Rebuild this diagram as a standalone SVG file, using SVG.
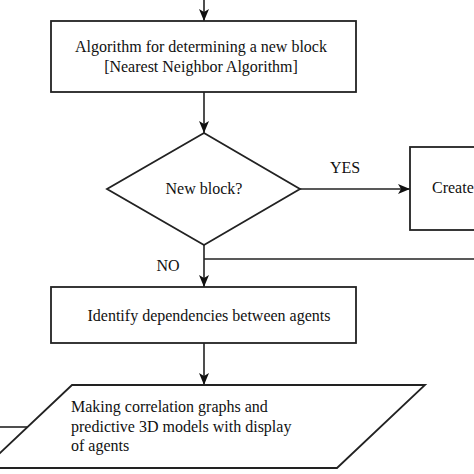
<svg xmlns="http://www.w3.org/2000/svg" width="474" height="474" viewBox="0 0 474 474">
<style>
.shape{fill:#fff;stroke:#222;stroke-width:1.8}
.conn{fill:none;stroke:#222;stroke-width:1.6}
text{font-family:"Liberation Serif","Times New Roman",serif;font-size:16px;fill:#111}
.c{text-anchor:middle}
</style>
<defs>
<marker id="arr" markerUnits="userSpaceOnUse" viewBox="0 0 12 10" markerWidth="12" markerHeight="10" refX="12" refY="5" orient="auto">
<path d="M0,0 L12,5 L0,10 L3,5 Z" fill="#111"/>
</marker>
</defs>
<rect width="474" height="474" fill="#fff"/>
<g id="connectors">
<line class="conn" x1="204" y1="0" x2="204" y2="21" marker-end="url(#arr)"/>
<line class="conn" x1="204" y1="92" x2="204" y2="133" marker-end="url(#arr)"/>
<line class="conn" x1="300" y1="189" x2="410" y2="189" marker-end="url(#arr)"/>
<line class="conn" x1="204" y1="245" x2="204" y2="287" marker-end="url(#arr)"/>
<line class="conn" x1="474" y1="259" x2="204" y2="259"/>
<line class="conn" x1="204" y1="343" x2="204" y2="385" marker-end="url(#arr)"/>
<line class="conn" x1="0" y1="427" x2="27" y2="427"/>
<text class="c" x="345" y="173">YES</text>
<text class="c" x="168" y="271">NO</text>
</g>
<g id="algorithm">
<rect class="shape" x="51" y="21" width="305" height="71"/>
<text class="c" x="201" y="52">Algorithm for determining a new block</text>
<text class="c" x="201" y="72">[Nearest Neighbor Algorithm]</text>
</g>
<g id="decision">
<polygon class="shape" points="204,133 300,189 204,245 107,189"/>
<text class="c" x="204" y="194">New block?</text>
</g>
<g id="create">
<rect class="shape" x="410" y="147" width="80" height="83"/>
<text x="432" y="193">Create</text>
</g>
<g id="identify">
<rect class="shape" x="51" y="287" width="305" height="56"/>
<text class="c" x="209" y="321">Identify dependencies between agents</text>
</g>
<g id="making">
<polygon class="shape" points="72,385 425,385 337,468 -16,468"/>
<text x="71" y="412">Making correlation graphs and</text>
<text x="71" y="432">predictive 3D models with display</text>
<text x="71" y="451">of agents</text>
</g>
</svg>
